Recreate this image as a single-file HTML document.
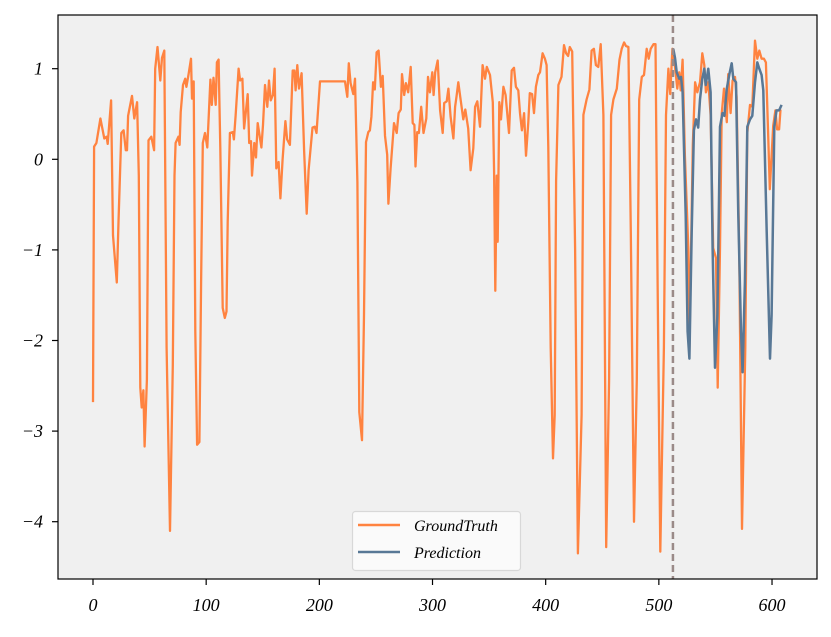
<!DOCTYPE html>
<html><head><meta charset="utf-8"><style>
html,body{margin:0;padding:0;background:#fff;}
svg text{font-family:"Liberation Serif",serif;font-style:italic;}
</style></head><body>
<svg id="chart" width="831" height="632" xmlns="http://www.w3.org/2000/svg">
<rect x="58" y="15" width="759" height="564" fill="#f0f0f0"/>
<g id="grid"></g>
<g id="series"></g>
<rect x="58" y="15" width="759" height="564" fill="none" stroke="#000" stroke-width="1.2"/>
<g id="axes"></g>
<g>
<rect x="352.5" y="511.5" width="168" height="59" rx="3" fill="#fafafa" stroke="#d8d8d8" stroke-width="1.2"/>
<line x1="358" y1="525" x2="400" y2="525" stroke="#ff8340" stroke-width="2.5"/>
<text x="414" y="531" font-size="16">GroundTruth</text>
<line x1="358" y1="552" x2="400" y2="552" stroke="#587896" stroke-width="2.5"/>
<text x="414" y="558" font-size="16">Prediction</text>
</g>
</svg>
<script>
const gtX=[0,1,3,6.5,10,12,13,16,17.7,21,22.5,25,27,29,30,31,34.5,36.5,39,40.5,41.8,43,44.5,45.6,47.6,49,51.5,54,55,57,59.5,61,63,65,68,70.5,72,73,75.5,76.5,77.5,79.5,81.5,82.5,84.5,86.6,87.5,89,90.4,92,94,95.5,97,99,101,103.7,105,106.5,108.4,109.5,111,112.5,114.6,116.5,118,119,121,123.5,124.5,126,128.7,130,132,133.5,136.7,138,139.6,140.5,142.5,144,145.5,148.8,150.2,152,154,155.5,157,159,160.5,162,164,165.6,167.5,170,171.5,174,176.5,178,179,180.5,182,184.3,186.5,188.8,190.5,194,196,197.5,200.6,222.7,224.7,226,227.6,230,231.5,233.6,235.3,237.7,239.5,241.2,243.3,244.7,246,247.5,249,250.6,252.4,254.4,256,258,260,261,263,266,268.4,270,272,273,275,276.5,278.5,280.7,282.5,284,285,286.5,288,290,292,294.5,296,297.7,299.8,301,302.4,304.6,306.7,309,310.3,312.5,314,316,318.5,320,321.3,322.8,324.8,327.2,329,331.5,333.7,336,337.6,339.6,342,344.3,346.4,348,350.8,353.3,354.4,355.5,356.7,357.6,359,360.5,362.6,364.6,367.6,370,372,373.7,375.8,377.3,379,380.9,382.6,384.6,386,388,389.7,391.4,393.5,395,397.3,399.3,400.8,402.3,404.4,406.5,408,409.2,411.2,414,416.2,418,419.8,421.3,423.4,426,428.5,431.7,433.3,436.2,438.6,440.6,442.6,444.4,446.5,448.6,451,453.5,456,457.8,459.8,462.8,465.2,467.2,469.3,471,473.1,475.2,478,480.5,482.6,484.9,486.9,489.3,491,492.8,495.3,497,498.9,501.3,504.5,506.3,508.4,510,512,514.3,516.3,518,519.3,521,523,526,527,530,532,534,536.4,538.4,540.2,541.6,543.7,545.7,548,550.5,552,554,555.5,557.6,560,561.3,563.4,565.2,567.3,568.7,571,573.5,576.4,578.2,580.5,582.6,585,587,588.8,590.8,592.8,594.6,596.6,598,599.6,601,603,604.5,606.3,607.5];
const gtY=[-2.68,0.14,0.18,0.45,0.23,0.25,0.17,0.65,-0.84,-1.36,-0.69,0.29,0.32,0.1,0.1,0.48,0.7,0.45,0.63,-0.18,-2.52,-2.74,-2.55,-3.17,-2.43,0.21,0.25,0.1,1.0,1.24,0.87,1.12,1.2,-2.08,-4.1,-2.27,-0.18,0.18,0.25,0.16,0.52,0.82,0.89,0.8,0.94,1.11,0.67,0.86,-1.9,-3.15,-3.12,-1.36,0.18,0.29,0.13,0.88,0.6,0.9,0.6,1.07,1.1,0.13,-1.64,-1.75,-1.68,-0.69,0.29,0.3,0.22,0.48,1.0,0.87,0.89,0.34,0.72,0.18,0.2,-0.18,0.18,0.02,0.4,0.13,0.38,0.82,0.58,0.87,0.65,0.71,1.0,-0.1,-0.03,-0.43,0.0,0.42,0.22,0.16,0.98,0.98,0.76,1.04,0.78,0.95,0.1,-0.6,-0.12,0.35,0.36,0.29,0.86,0.86,0.69,1.06,0.84,0.72,0.89,-0.25,-2.79,-3.1,-1.72,0.19,0.3,0.32,0.47,0.85,0.77,1.18,1.2,0.8,0.92,0.26,0.05,-0.49,-0.1,0.4,0.29,0.51,0.55,0.94,0.71,0.84,0.74,1.02,0.4,0.38,-0.08,0.3,0.29,0.58,0.29,0.45,0.91,0.74,0.96,0.71,0.96,1.09,0.54,0.29,0.62,0.64,0.78,0.47,0.23,0.58,0.7,0.85,0.66,0.44,0.55,0.34,-0.12,0.12,0.58,0.64,0.36,1.04,0.89,1.02,0.93,0.63,-0.14,-1.45,-0.18,-0.91,0.63,0.44,0.8,0.71,0.29,0.98,1.01,0.8,0.76,0.51,0.32,0.51,0.04,0.41,0.73,0.72,0.51,0.8,0.93,0.96,1.17,1.11,1.04,0.13,-2.08,-3.3,-2.82,-0.24,0.82,0.91,1.26,1.17,1.14,1.24,1.19,-0.98,-4.35,-2.82,0.49,0.66,0.77,1.2,1.22,1.04,1.02,1.27,0.49,-4.28,-2.43,0.49,0.66,0.78,1.1,1.22,1.29,1.25,1.24,-0.8,-4.0,-2.43,0.66,0.91,0.93,1.22,1.11,1.22,1.27,1.27,-1.36,-4.33,-2.08,0.49,1.0,0.72,1.22,1.02,0.78,0.96,0.76,1.1,0.04,-0.98,-2.1,0.16,0.85,0.74,0.85,1.17,1.04,0.74,0.85,0.49,-0.98,-1.09,-2.52,-0.98,0.5,0.78,0.41,0.94,0.51,0.87,0.91,0.69,-0.98,-4.08,-2.08,0.29,0.6,0.58,1.31,1.11,1.2,1.11,1.11,1.07,0.26,-0.33,0.04,0.37,0.54,0.33,0.33,0.55];
const predX=[512.8,514.3,515.8,518,519.6,521,523.7,525.4,527,529,531,532.8,534.8,536.4,538.4,540.2,541.4,543.7,545.7,547.5,549.6,551.7,554,556.2,557.9,560,562.3,564.4,565.8,568.2,570.2,572.6,574,576,578.2,580.5,582.6,585,587,588.8,590.8,592.3,595.3,598.2,599.6,602,604,606.3,608.5];
const predY=[1.22,1.12,0.96,0.89,0.91,0.74,-0.62,-1.9,-2.2,-0.8,0.32,0.44,0.35,0.66,0.89,1.0,0.82,1.0,0.74,-0.98,-2.3,-1.72,0.36,0.51,0.48,0.78,0.94,1.06,0.89,0.85,-0.62,-1.9,-2.35,-1.36,0.36,0.44,0.48,0.85,1.07,1.0,0.93,0.76,-0.8,-2.2,-1.72,0.36,0.54,0.54,0.6];
const xTicks=[0,100,200,300,400,500,600];
const yTicks=[1,0,-1,-2,-3,-4];
const splitX=512;

const NS='http://www.w3.org/2000/svg';
function sx(v){return 93+v*1.1317;}
function sy(v){return 159.3-v*90.6;}
function mk(tag,attrs,parent){const e=document.createElementNS(NS,tag);for(const k in attrs)e.setAttribute(k,attrs[k]);parent.appendChild(e);return e;}
const series=document.getElementById('series');
const axes=document.getElementById('axes');
function pathFrom(xs,ys){return xs.map((x,i)=>(i?'L':'M')+sx(x).toFixed(1)+' '+sy(ys[i]).toFixed(1)).join(' ');}
const gt=mk('path',{d:pathFrom(gtX,gtY),fill:'none',stroke:'#ff8340','stroke-width':2.3,'stroke-linejoin':'round'},series);


const pr=mk('path',{d:pathFrom(predX,predY),fill:'none',stroke:'#587896','stroke-width':2.5,'stroke-linejoin':'round'},series);


const sp=mk('line',{x1:sx(splitX)+0.5,x2:sx(splitX)+0.5,y1:15,y2:579,stroke:'#9a8a88','stroke-width':2.5,'stroke-dasharray':'7,4'},series);


xTicks.forEach(t=>{
  const l=mk('line',{x1:sx(t),x2:sx(t),y1:579,y2:585,stroke:'#000','stroke-width':1.2},axes);
  
  
  const tx=mk('text',{x:sx(t),y:611,'font-size':18,'text-anchor':'middle'},axes);
  tx.textContent=String(t);
  
  
});
yTicks.forEach(t=>{
  const l=mk('line',{x1:52,x2:58,y1:sy(t),y2:sy(t),stroke:'#000','stroke-width':1.2},axes);
  
  
  const tx=mk('text',{x:43,y:sy(t)+6,'font-size':18,'text-anchor':'end'},axes);
  tx.textContent=t<0?'\u2212'+Math.abs(t):String(t);
  
  
});
</script>
</body></html>
